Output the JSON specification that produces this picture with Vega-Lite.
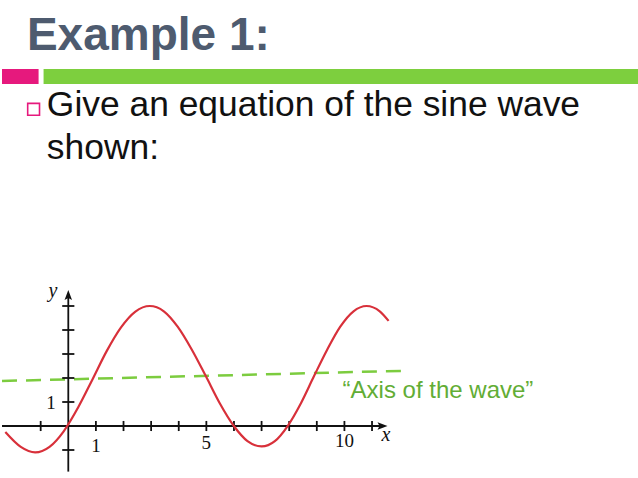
{
  "$schema": "https://vega.github.io/schema/vega-lite/v6.json",
  "width": 638,
  "height": 478,
  "autosize": {"type": "fit", "contains": "padding"},
  "padding": 0,
  "background": "white",
  "config": {"view": {"stroke": null}, "font": "Liberation Sans"},
  "encoding": {
    "x": {"field": "x", "type": "quantitative", "scale": {"domain": [-2.4007, 20.632], "nice": false, "zero": false}, "axis": null},
    "y": {"field": "y", "type": "quantitative", "scale": {"domain": [-2.1667, 17.75], "nice": false, "zero": false}, "axis": null}
  },
  "layer": [
    {
      "data": {"values": [{"x": -2.4007, "x2": -1.0758, "y": 14.875, "y2": 14.25}]},
      "mark": {"type": "rect", "color": "#e6197d"},
      "encoding": {"x2": {"field": "x2"}, "y2": {"field": "y2"}}
    },
    {
      "data": {"values": [{"x": -0.8953, "x2": 20.632, "y": 14.875, "y2": 14.25}]},
      "mark": {"type": "rect", "color": "#7dcf3e"},
      "encoding": {"x2": {"field": "x2"}, "y2": {"field": "y2"}}
    },
    {
      "data": {"values": [{"x": -1.4982, "y": 15.667, "text": "Example 1:"}]},
      "mark": {"type": "text", "align": "left", "baseline": "alphabetic", "fontSize": 46, "fontWeight": "bold", "color": "#4e5b6f"},
      "encoding": {"text": {"field": "text"}}
    },
    {
      "data": {"values": [{"x": -1.2563, "y": 13.196}]},
      "mark": {"type": "point", "shape": "square", "size": 140, "filled": false, "stroke": "#e6197d", "strokeWidth": 1.6, "opacity": 1}
    },
    {
      "data": {"values": [
        {"x": -0.7762, "y": 12.917, "text": "Give an equation of the sine wave"},
        {"x": -0.7762, "y": 11.125, "text": "shown:"}
      ]},
      "mark": {"type": "text", "align": "left", "baseline": "alphabetic", "fontSize": 35.4, "color": "#111111"},
      "encoding": {"text": {"field": "text"}}
    },
    {
      "data": {"values": [{"x": -2.4, "y": 1.875, "x2": 12.16, "y2": 2.3}]},
      "mark": {"type": "rule", "color": "#7ccc3f", "strokeWidth": 2.5, "strokeDash": [15, 9]},
      "encoding": {"x2": {"field": "x2"}, "y2": {"field": "y2"}}
    },
    {
      "data": {"values": [{"x": 9.935, "y": 1.154, "text": "\u201cAxis of the wave\u201d"}]},
      "mark": {"type": "text", "align": "left", "baseline": "alphabetic", "fontSize": 24, "color": "#62ad35"},
      "encoding": {"text": {"field": "text"}}
    },
    {
      "data": {"values": [
        {"x": 0, "y": -1.9, "x2": 0, "y2": 5.4},
        {"x": -2.4, "y": 0, "x2": 11.3, "y2": 0},
        {"x": -1, "y": -0.21, "x2": -1, "y2": 0.21},
        {"x": 1, "y": -0.21, "x2": 1, "y2": 0.21},
        {"x": 2, "y": -0.21, "x2": 2, "y2": 0.21},
        {"x": 3, "y": -0.21, "x2": 3, "y2": 0.21},
        {"x": 4, "y": -0.21, "x2": 4, "y2": 0.21},
        {"x": 5, "y": -0.21, "x2": 5, "y2": 0.21},
        {"x": 6, "y": -0.21, "x2": 6, "y2": 0.21},
        {"x": 7, "y": -0.21, "x2": 7, "y2": 0.21},
        {"x": 8, "y": -0.21, "x2": 8, "y2": 0.21},
        {"x": 9, "y": -0.21, "x2": 9, "y2": 0.21},
        {"x": 10, "y": -0.21, "x2": 10, "y2": 0.21},
        {"x": 11, "y": -0.21, "x2": 11, "y2": 0.21},
        {"x": -0.22, "y": -1, "x2": 0.22, "y2": -1},
        {"x": -0.22, "y": 1, "x2": 0.22, "y2": 1},
        {"x": -0.22, "y": 2, "x2": 0.22, "y2": 2},
        {"x": -0.22, "y": 3, "x2": 0.22, "y2": 3},
        {"x": -0.22, "y": 4, "x2": 0.22, "y2": 4},
        {"x": -0.22, "y": 5, "x2": 0.22, "y2": 5}
      ]},
      "mark": {"type": "rule", "color": "#111111", "strokeWidth": 1.8},
      "encoding": {"x2": {"field": "x2"}, "y2": {"field": "y2"}}
    },
    {
      "data": {"values": [{"x": 0, "y": 5.458}]},
      "mark": {"type": "point", "shape": "M0,-1L0.75,1L0,0.6L-0.75,1Z", "size": 100, "filled": true, "color": "#111111", "opacity": 1}
    },
    {
      "data": {"values": [{"x": 11.38, "y": 0}]},
      "mark": {"type": "point", "shape": "M1,0L-1,-0.75L-0.6,0L-1,0.75Z", "size": 100, "filled": true, "color": "#111111", "opacity": 1}
    },
    {
      "data": {"values": [
        {"x": 1, "y": -1.08, "text": "1"},
        {"x": 5, "y": -0.96, "text": "5"},
        {"x": 10, "y": -0.88, "text": "10"}
      ]},
      "mark": {"type": "text", "align": "center", "baseline": "alphabetic", "fontSize": 19, "font": "Liberation Serif", "color": "#111111"},
      "encoding": {"text": {"field": "text"}}
    },
    {
      "data": {"values": [{"x": -0.45, "y": 0.96, "text": "1"}]},
      "mark": {"type": "text", "align": "right", "baseline": "middle", "fontSize": 19, "font": "Liberation Serif", "color": "#111111"},
      "encoding": {"text": {"field": "text"}}
    },
    {
      "data": {"values": [
        {"x": -0.56, "y": 5.375, "text": "y"},
        {"x": 11.5, "y": -0.62, "text": "x"}
      ]},
      "mark": {"type": "text", "align": "center", "baseline": "alphabetic", "fontSize": 20, "font": "Liberation Serif", "fontStyle": "italic", "color": "#111111"},
      "encoding": {"text": {"field": "text"}}
    },
    {
      "data": {"values": [
        {"x": -2.28, "y": -0.25},
        {"x": -1.72, "y": -0.87},
        {"x": -1.2, "y": -1.1},
        {"x": -0.68, "y": -0.87},
        {"x": -0.16, "y": -0.21},
        {"x": 0.36, "y": 0.78},
        {"x": 0.88, "y": 1.95},
        {"x": 1.39, "y": 3.12},
        {"x": 1.91, "y": 4.11},
        {"x": 2.43, "y": 4.77},
        {"x": 2.95, "y": 5.0},
        {"x": 3.46, "y": 4.78},
        {"x": 3.96, "y": 4.14},
        {"x": 4.47, "y": 3.19},
        {"x": 4.98, "y": 2.08},
        {"x": 5.48, "y": 0.96},
        {"x": 5.99, "y": 0.01},
        {"x": 6.49, "y": -0.63},
        {"x": 7.0, "y": -0.85},
        {"x": 7.48, "y": -0.63},
        {"x": 7.95, "y": 0.01},
        {"x": 8.43, "y": 0.96},
        {"x": 8.9, "y": 2.08},
        {"x": 9.38, "y": 3.19},
        {"x": 9.85, "y": 4.14},
        {"x": 10.33, "y": 4.78},
        {"x": 10.8, "y": 5.0},
        {"x": 11.28, "y": 4.78},
        {"x": 11.6, "y": 4.38}
      ]},
      "mark": {"type": "line", "color": "#d8303a", "strokeWidth": 2.2, "interpolate": "monotone"},
      "encoding": {"order": {"field": "x", "type": "quantitative"}}
    }
  ]
}
